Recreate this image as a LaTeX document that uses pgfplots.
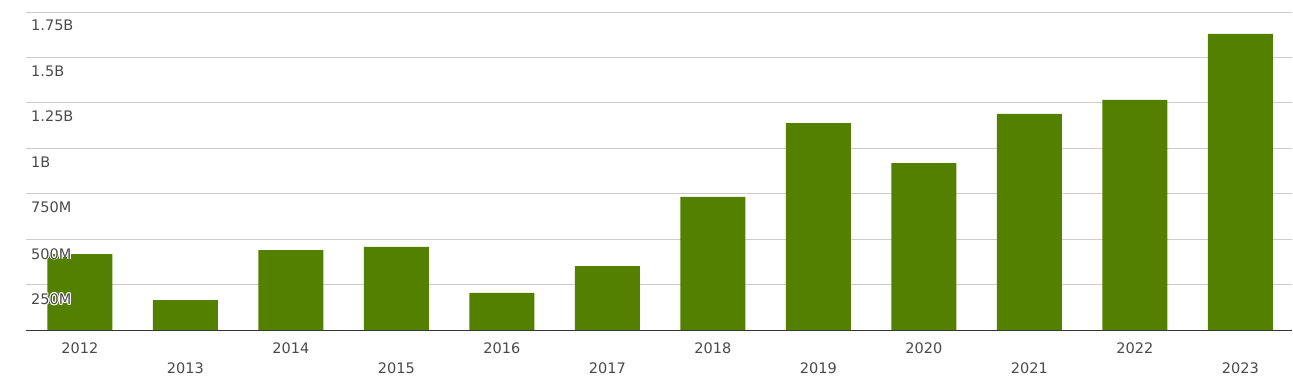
\documentclass[border=0pt]{standalone}
\usepackage{pgfplots}
\pgfplotsset{compat=1.18}
\usepackage{fontspec}
\setmainfont{DejaVu Sans}
\definecolor{barg}{HTML}{548000}
\definecolor{gridc}{HTML}{CCCCCC}
\definecolor{txt}{HTML}{4A4A4A}
\newcommand\hcopy[3]{\makebox[0pt][l]{\hspace*{#1}\raisebox{#2}{\color{white}#3}}}
\newcommand\halo[1]{\hcopy{0.9bp}{0bp}{#1}\hcopy{-0.9bp}{0bp}{#1}\hcopy{0bp}{0.9bp}{#1}\hcopy{0bp}{-0.9bp}{#1}\hcopy{0.65bp}{0.65bp}{#1}\hcopy{-0.65bp}{0.65bp}{#1}\hcopy{0.65bp}{-0.65bp}{#1}\hcopy{-0.65bp}{-0.65bp}{#1}#1}
\pgfplotsset{
  common/.style={
    scale only axis,
    width=1266bp, height=318bp,
    xmin=-0.51, xmax=11.49,
    ymin=0, ymax=1750,
    axis x line*=bottom,
    axis y line*=left,
    y axis line style={draw=none},
    major tick length=0pt,
    ytick={250,500,750,1000,1250,1500,1750},
    xtick={0,2,4,6,8,10},
    clip=false,
  },
}
\begin{document}
\begin{tikzpicture}
\begin{axis}[
  common,
  name=ax,
  x axis line style={draw=black!80, line width=0.8bp},
  ymajorgrids,
  grid style={gridc, line width=0.8bp},
  yticklabels={},
  xticklabels={},
]
\addplot[ybar, bar width=65bp, fill=barg, draw=none, bar shift=0pt] coordinates {
 (0,418) (1,165) (2,440) (3,457) (4,204) (5,352) (6,732) (7,1139) (8,919) (9,1189) (10,1266) (11,1629)
};
\end{axis}
\begin{axis}[
  common,
  x axis line style={draw=none},
  yticklabels={\halo{250M},\halo{500M},750M,1B,1.25B,1.5B,1.75B},
  yticklabel style={anchor=north west, inner sep=0pt, xshift=5bp, yshift=-8bp, text=txt, font=\fontsize{14.5bp}{16bp}\selectfont},
  xticklabels={2012,2014,2016,2018,2020,2022},
  extra x ticks={1,3,5,7,9,11},
  extra x tick labels={2013,2015,2017,2019,2021,2023},
  extra x tick style={xticklabel style={yshift=-20bp}, grid=none},
  xticklabel style={anchor=north, inner sep=0pt, yshift=-13bp, text=txt, font=\fontsize{14.5bp}{16bp}\selectfont},
]
\end{axis}
\pgfresetboundingbox
\path ([xshift=-26bp,yshift=-54bp]ax.south west) rectangle ([xshift=1bp,yshift=12bp]ax.north east);
\end{tikzpicture}
\end{document}
